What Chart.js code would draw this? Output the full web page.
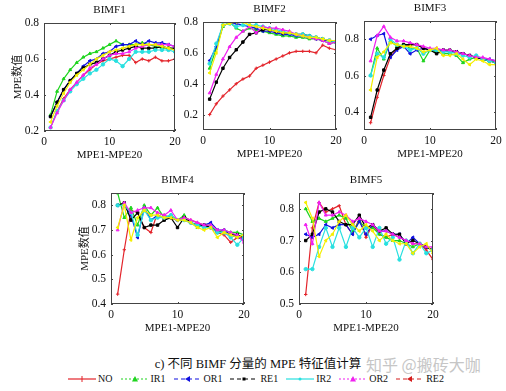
<!DOCTYPE html>
<html>
<head>
<meta charset="utf-8">
<script src="https://cdn.jsdelivr.net/npm/chart.js@4.4.1/dist/chart.umd.min.js"></script>
<style>
  body { margin: 0; width: 506px; height: 391px; background: #fff; position: relative; overflow: hidden;
         font-family: 'Liberation Serif', 'Noto Sans CJK SC', serif; color: #111; }
  .box { position: absolute; }
  #caption { position: absolute; left: 5px; top: 353px; width: 506px; text-align: center; font-size: 12.5px; }
  #mark { position: absolute; left: 366px; top: 352px; font-size: 16px; color: #c6c6c6;
          font-family: 'Noto Sans CJK SC', sans-serif; }
  #legend { position: absolute; left: 3px; top: 373px; width: 506px; display: flex; justify-content: center;
            gap: 8px; font-size: 10px; align-items: center; }
  #legend span.it { display: flex; align-items: center; }
  #legend svg { margin-right: 2px; }
</style>
</head>
<body>
<div class="box" id="w1"><canvas id="c1"></canvas></div>
<div class="box" id="w2"><canvas id="c2"></canvas></div>
<div class="box" id="w3"><canvas id="c3"></canvas></div>
<div class="box" id="w4"><canvas id="c4"></canvas></div>
<div class="box" id="w5"><canvas id="c5"></canvas></div>
<div id="caption">c) 不同 BIMF 分量的 MPE 特征值计算</div>
<div id="mark">知乎 @搬砖大咖</div>
<div id="legend"></div>
<script>
// x positions MPE1..MPE20
const mpeIndex = [1,2,3,4,5,6,7,8,9,10,11,12,13,14,15,16,17,18,19,20];
const seriesNames = ['NO','IR1','OR1','RE1','IR2','OR2','RE2'];
const xTicks = [0, 10, 20];

// BIMF1
const b1NO  = [0.22,0.31,0.38,0.43,0.47,0.51,0.54,0.57,0.59,0.60,0.61,0.62,0.62,0.58,0.60,0.59,0.61,0.59,0.59,0.60];
const b1IR1 = [0.29,0.42,0.49,0.54,0.58,0.61,0.63,0.64,0.66,0.68,0.70,0.68,0.68,0.68,0.69,0.68,0.67,0.66,0.66,0.65];
const b1OR1 = [0.28,0.36,0.43,0.48,0.52,0.56,0.59,0.60,0.63,0.64,0.67,0.68,0.68,0.70,0.68,0.70,0.69,0.69,0.68,0.67];
const b1RE1 = [0.28,0.36,0.43,0.48,0.52,0.55,0.57,0.58,0.60,0.62,0.64,0.65,0.66,0.67,0.66,0.66,0.66,0.67,0.66,0.66];
const b1IR2 = [0.22,0.31,0.37,0.42,0.46,0.49,0.52,0.54,0.57,0.60,0.59,0.56,0.60,0.64,0.64,0.64,0.65,0.65,0.65,0.64];
const b1OR2 = [0.22,0.30,0.37,0.43,0.47,0.51,0.55,0.57,0.60,0.62,0.63,0.63,0.64,0.66,0.67,0.68,0.68,0.68,0.68,0.67];
const b1RE2 = [0.25,0.34,0.41,0.47,0.51,0.54,0.57,0.60,0.62,0.64,0.65,0.66,0.67,0.68,0.68,0.68,0.68,0.67,0.66,0.65];
const b1Ticks = [0.2, 0.4, 0.6, 0.8];

// BIMF2
const b2NO  = [0.20,0.27,0.32,0.36,0.40,0.43,0.45,0.50,0.52,0.54,0.56,0.58,0.60,0.61,0.61,0.61,0.60,0.65,0.63,0.62];
const b2IR1 = [0.50,0.63,0.77,0.80,0.76,0.74,0.76,0.75,0.74,0.73,0.72,0.71,0.71,0.70,0.70,0.69,0.69,0.68,0.66,0.67];
const b2OR1 = [0.55,0.64,0.78,0.79,0.79,0.78,0.77,0.76,0.74,0.74,0.73,0.72,0.72,0.71,0.71,0.70,0.69,0.68,0.68,0.67];
const b2RE1 = [0.30,0.41,0.50,0.57,0.62,0.67,0.72,0.73,0.75,0.75,0.74,0.73,0.73,0.72,0.72,0.71,0.70,0.69,0.68,0.67];
const b2IR2 = [0.53,0.66,0.78,0.79,0.77,0.78,0.78,0.78,0.77,0.76,0.75,0.74,0.73,0.72,0.72,0.71,0.70,0.69,0.68,0.67];
const b2OR2 = [0.34,0.46,0.56,0.64,0.70,0.74,0.77,0.73,0.77,0.76,0.76,0.75,0.74,0.72,0.71,0.70,0.69,0.68,0.66,0.67];
const b2RE2 = [0.47,0.60,0.78,0.79,0.80,0.80,0.78,0.77,0.76,0.75,0.74,0.73,0.73,0.72,0.71,0.70,0.70,0.69,0.68,0.68];
const b2Ticks = [0.2, 0.4, 0.6, 0.8];

// BIMF3
const b3NO  = [0.34,0.48,0.60,0.70,0.75,0.76,0.77,0.77,0.75,0.74,0.74,0.74,0.73,0.73,0.72,0.71,0.70,0.69,0.68,0.68];
const b3IR1 = [0.60,0.75,0.69,0.79,0.76,0.77,0.75,0.75,0.68,0.74,0.73,0.72,0.72,0.71,0.67,0.69,0.70,0.69,0.68,0.67];
const b3OR1 = [0.80,0.82,0.83,0.70,0.74,0.76,0.72,0.74,0.75,0.74,0.74,0.74,0.73,0.73,0.72,0.71,0.70,0.69,0.69,0.68];
const b3RE1 = [0.37,0.52,0.63,0.72,0.75,0.77,0.77,0.77,0.75,0.74,0.72,0.74,0.74,0.73,0.72,0.71,0.70,0.69,0.68,0.67];
const b3IR2 = [0.60,0.72,0.70,0.80,0.77,0.76,0.74,0.75,0.72,0.74,0.74,0.73,0.73,0.72,0.71,0.70,0.71,0.69,0.68,0.67];
const b3OR2 = [0.68,0.82,0.87,0.81,0.79,0.79,0.78,0.77,0.76,0.75,0.75,0.74,0.74,0.73,0.72,0.71,0.70,0.70,0.69,0.68];
const b3RE2 = [0.52,0.70,0.73,0.78,0.77,0.76,0.76,0.75,0.73,0.74,0.75,0.71,0.71,0.72,0.69,0.66,0.69,0.68,0.66,0.66];
const b3Ticks = [0.4, 0.6, 0.8];

// BIMF4
const b4NO  = [0.44,0.62,0.78,0.77,0.71,0.69,0.77,0.76,0.75,0.74,0.75,0.74,0.73,0.72,0.71,0.69,0.68,0.65,0.67,0.67];
const b4IR1 = [0.85,0.75,0.79,0.72,0.80,0.76,0.79,0.75,0.76,0.74,0.76,0.73,0.71,0.72,0.72,0.69,0.70,0.69,0.69,0.68];
const b4OR1 = [0.80,0.80,0.76,0.67,0.79,0.74,0.76,0.75,0.75,0.74,0.74,0.73,0.72,0.72,0.73,0.70,0.70,0.68,0.67,0.66];
const b4RE1 = [0.80,0.81,0.74,0.77,0.71,0.72,0.72,0.74,0.75,0.71,0.75,0.73,0.72,0.72,0.71,0.69,0.69,0.68,0.68,0.67];
const b4IR2 = [0.80,0.80,0.77,0.68,0.78,0.74,0.75,0.75,0.76,0.74,0.74,0.73,0.72,0.71,0.71,0.69,0.69,0.67,0.64,0.67];
const b4OR2 = [0.70,0.81,0.77,0.78,0.79,0.79,0.77,0.76,0.78,0.74,0.75,0.74,0.73,0.72,0.72,0.70,0.70,0.69,0.68,0.65];
const b4RE2 = [0.71,0.80,0.66,0.75,0.78,0.76,0.76,0.75,0.75,0.74,0.74,0.73,0.71,0.70,0.71,0.67,0.69,0.68,0.67,0.68];
const b4Ticks = [0.4, 0.5, 0.6, 0.7, 0.8];

// BIMF5
const b5NO  = [0.53,0.74,0.82,0.79,0.80,0.81,0.75,0.72,0.77,0.71,0.75,0.72,0.71,0.72,0.71,0.70,0.69,0.69,0.67,0.64];
const b5IR1 = [0.80,0.76,0.77,0.76,0.77,0.78,0.77,0.73,0.76,0.74,0.74,0.72,0.71,0.70,0.70,0.69,0.68,0.69,0.68,0.67];
const b5OR1 = [0.72,0.71,0.72,0.75,0.74,0.75,0.75,0.72,0.76,0.72,0.75,0.73,0.73,0.72,0.72,0.69,0.71,0.69,0.68,0.67];
const b5RE1 = [0.70,0.72,0.79,0.80,0.79,0.76,0.75,0.75,0.78,0.74,0.75,0.73,0.74,0.72,0.72,0.69,0.70,0.69,0.68,0.67];
const b5IR2 = [0.61,0.61,0.68,0.74,0.68,0.74,0.68,0.74,0.71,0.74,0.68,0.74,0.69,0.71,0.64,0.70,0.66,0.69,0.66,0.67];
const b5OR2 = [0.75,0.69,0.82,0.78,0.78,0.79,0.78,0.76,0.77,0.76,0.75,0.73,0.73,0.72,0.71,0.70,0.69,0.69,0.68,0.68];
const b5RE2 = [0.82,0.77,0.65,0.70,0.72,0.76,0.78,0.75,0.73,0.75,0.73,0.70,0.72,0.70,0.69,0.69,0.66,0.68,0.69,0.66];
const b5Ticks = [0.5, 0.6, 0.7, 0.8];

// styles
const lineColors = ['#e3242b', '#1ed41e', '#1010e0', '#000000', '#28e0e0', '#f020f0', '#f4ee00'];
const legendColors = ['#e3242b', '#1ed41e', '#1010e0', '#000000', '#28e0e0', '#f020f0', '#d41c1c'];
const legendDash = ['', '2,2', '4,3', '4,3', '', '2,2', '4,3'];
const markStyle = ['cross', 'triangle', 'triangle', 'rect', 'circle', 'triangle', 'triangle'];
const markRot = [0, 0, -90, 0, 0, 0, -90];

const FONT = "'Liberation Serif', 'Noto Sans CJK SC', serif";

const frame = {
  id: 'frame',
  afterDatasetsDraw(chart) {
    const {ctx, chartArea: a, scales} = chart;
    ctx.save();
    ctx.strokeStyle = '#444';
    ctx.lineWidth = 1;
    ctx.strokeRect(Math.round(a.left) + 0.5, Math.round(a.top) + 0.5,
                   Math.round(a.right - a.left) - 1, Math.round(a.bottom - a.top) - 1);
    ctx.beginPath();
    scales.x.ticks.forEach(t => {
      const p = Math.round(scales.x.getPixelForValue(t.value)) + 0.5;
      ctx.moveTo(p, a.bottom); ctx.lineTo(p, a.bottom - 2);
      ctx.moveTo(p, a.top); ctx.lineTo(p, a.top + 2);
    });
    scales.y.ticks.forEach(t => {
      const p = Math.round(scales.y.getPixelForValue(t.value)) + 0.5;
      ctx.moveTo(a.left, p); ctx.lineTo(a.left + 2, p);
      ctx.moveTo(a.right, p); ctx.lineTo(a.right - 2, p);
    });
    ctx.stroke();
    ctx.restore();
  }
};

function makeChart(id, wrapId, title, series, yMin, yMax, yTicks, area, yTitle) {
  const yW = 44, titleH = 22, xH = 34, padR = 10;
  const w = yW + (area.r - area.l) + padR;
  const h = titleH + (area.b - area.t) + xH;
  const wrap = document.getElementById(wrapId);
  wrap.style.left = (area.l - yW) + 'px';
  wrap.style.top = (area.t - titleH) + 'px';
  const cv = document.getElementById(id);
  cv.width = w; cv.height = h;
  cv.style.width = w + 'px'; cv.style.height = h + 'px';

  const datasets = series.map((vals, i) => ({
    label: seriesNames[i],
    data: vals.map((v, k) => ({x: mpeIndex[k], y: v})),
    borderColor: lineColors[i],
    backgroundColor: lineColors[i],
    borderWidth: 1.2,
    pointStyle: markStyle[i],
    pointRotation: markRot[i],
    pointRadius: 1.7,
    pointBorderWidth: 1,
    tension: 0,
    order: 6 - i
  }));

  new Chart(cv, {
    type: 'line',
    data: {datasets},
    options: {
      responsive: false,
      animation: false,
      devicePixelRatio: 1,
      layout: {padding: {left: 0, top: 0, right: padR, bottom: 0}},
      plugins: {
        legend: {display: false},
        tooltip: {enabled: false},
        title: {display: true, fullSize: false, text: title, color: '#111',
                font: {family: FONT, size: 11, weight: 'normal'},
                padding: {top: 3, bottom: titleH - 3 - 13.2}}
      },
      scales: {
        x: {
          type: 'linear', min: 0, max: 20,
          afterBuildTicks: s => { s.ticks = xTicks.map(v => ({value: v})); },
          afterFit: s => { s.height = xH; },
          grid: {display: false, drawTicks: false}, border: {display: false},
          ticks: {color: '#111', font: {family: FONT, size: 11.5}, padding: 4, maxRotation: 0},
          title: {display: true, text: 'MPE1-MPE20', color: '#111',
                  font: {family: FONT, size: 11}, padding: {top: 0, bottom: 3}}
        },
        y: {
          min: yMin, max: yMax,
          afterBuildTicks: s => { s.ticks = yTicks.map(v => ({value: v})); },
          afterFit: s => { s.width = yW; },
          grid: {display: false, drawTicks: false}, border: {display: false},
          ticks: {color: '#111', font: {family: FONT, size: 11.5}, padding: 5,
                  callback: v => v.toFixed(1)},
          title: {display: yTitle, text: 'MPE数值', color: '#111',
                  font: {family: FONT, size: 11}, padding: {top: 12, bottom: 0}}
        }
      }
    },
    plugins: [frame]
  });
}

makeChart('c1', 'w1', 'BIMF1', [b1NO, b1IR1, b1OR1, b1RE1, b1IR2, b1OR2, b1RE2], 0.2, 0.8, b1Ticks,
          {l: 44, t: 23, r: 175, b: 131}, true);
makeChart('c2', 'w2', 'BIMF2', [b2NO, b2IR1, b2OR1, b2RE1, b2IR2, b2OR2, b2RE2], 0.1, 0.8, b2Ticks,
          {l: 203, t: 22, r: 336, b: 130}, false);
makeChart('c3', 'w3', 'BIMF3', [b3NO, b3IR1, b3OR1, b3RE1, b3IR2, b3OR2, b3RE2], 0.3, 0.9, b3Ticks,
          {l: 364, t: 21, r: 496, b: 130}, false);
makeChart('c4', 'w4', 'BIMF4', [b4NO, b4IR1, b4OR1, b4RE1, b4IR2, b4OR2, b4RE2], 0.4, 0.85, b4Ticks,
          {l: 111, t: 193, r: 244, b: 304}, true);
makeChart('c5', 'w5', 'BIMF5', [b5NO, b5IR1, b5OR1, b5RE1, b5IR2, b5OR2, b5RE2], 0.5, 0.85, b5Ticks,
          {l: 299, t: 193, r: 433, b: 304}, false);

// legend keys
function markerSvg(i) {
  const c = legendColors[i];
  if (markStyle[i] === 'cross') return `<path d="M14 2 V8" stroke="${c}" stroke-width="1"/>`;
  if (markStyle[i] === 'rect') return `<rect x="12.5" y="3.5" width="3" height="3" fill="${c}"/>`;
  if (markStyle[i] === 'circle') return `<circle cx="14" cy="5" r="1.5" fill="${c}"/>`;
  if (markRot[i] === -90) return `<path d="M11 5 L16 2 L16 8 Z" fill="${c}"/>`;
  return `<path d="M14 2 L17 7.5 L11 7.5 Z" fill="${c}"/>`;
}
const lg = document.getElementById('legend');
seriesNames.forEach((name, i) => {
  const it = document.createElement('span');
  it.className = 'it';
  it.innerHTML = `<svg width="28" height="10"><line x1="0" y1="5" x2="28" y2="5" stroke="${legendColors[i]}"
    stroke-width="1.2" stroke-dasharray="${legendDash[i]}"/>${markerSvg(i)}</svg><span>${name}</span>`;
  lg.appendChild(it);
});
</script>
</body>
</html>
